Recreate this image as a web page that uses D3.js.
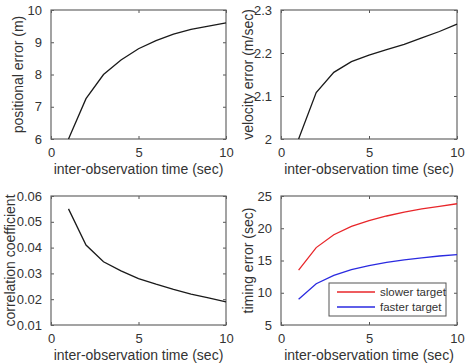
<!DOCTYPE html>
<html>
<head>
<meta charset="utf-8">
<script src="https://cdn.jsdelivr.net/npm/d3@7"></script>
<style>
  body { margin: 0; background: #fff; }
  svg { display: block; }
</style>
</head>
<body>
<div id="chart"></div>
<script>
const width = 474;
const height = 363;

const times = [1, 2, 3, 4, 5, 6, 7, 8, 9, 10];
const positionalError = [6.0, 7.25, 8.0, 8.45, 8.8, 9.05, 9.25, 9.4, 9.5, 9.6];
const velocityError = [2.0, 2.108, 2.155, 2.18, 2.195, 2.208, 2.22, 2.235, 2.25, 2.267];
const correlation = [0.055, 0.041, 0.0345, 0.031, 0.028, 0.0258, 0.0238, 0.022, 0.0205, 0.019];
const slowerTarget = [13.5, 17.0, 19.0, 20.3, 21.2, 21.9, 22.5, 23.0, 23.4, 23.8];
const fasterTarget = [9.0, 11.4, 12.7, 13.6, 14.2, 14.7, 15.1, 15.4, 15.7, 15.9];

const xTicks = [0, 5, 10];
const xTitle = 'inter-observation time (sec)';

const panels = [
  { box: [51, 10, 226, 139], yDomain: [6, 10], yTicks: [6, 7, 8, 9, 10], fmt: d => d,
    title: 'positional error (m)', titleX: 18,
    series: [{ values: positionalError, color: '#1a1a1a' }] },
  { box: [281, 10, 457, 139], yDomain: [2, 2.3], yTicks: [2, 2.1, 2.2, 2.3], fmt: d => d,
    title: 'velocity error (m/sec)', titleX: 248,
    series: [{ values: velocityError, color: '#1a1a1a' }] },
  { box: [51, 196, 226, 325], yDomain: [0.01, 0.06], yTicks: [0.01, 0.02, 0.03, 0.04, 0.05, 0.06], fmt: d3.format('.2f'),
    title: 'correlation coefficient', titleX: 10,
    series: [{ values: correlation, color: '#1a1a1a' }] },
  { box: [281, 196, 457, 325], yDomain: [5, 25], yTicks: [5, 10, 15, 20, 25], fmt: d => d,
    title: 'timing error (sec)', titleX: 248,
    series: [
      { values: slowerTarget, color: '#e8262a', name: 'slower target' },
      { values: fasterTarget, color: '#2a2ae0', name: 'faster target' }
    ],
    legend: true }
];

const svg = d3.select('#chart').append('svg')
    .attr('width', width)
    .attr('height', height)
    .attr('font-family', 'Liberation Sans, Arial, sans-serif');

panels.forEach(p => {
  const [x0, y0, x1, y1] = p.box;
  const x = d3.scaleLinear().domain([0, 10]).range([x0, x1]);
  const y = d3.scaleLinear().domain(p.yDomain).range([y1, y0]);
  const g = svg.append('g');

  // ticks inside the box on all four sides
  const axisColor = '#555';
  g.append('g')
      .attr('transform', `translate(0,${y1})`)
      .call(d3.axisBottom(x).tickValues(xTicks).tickSizeInner(-3).tickSizeOuter(0).tickPadding(9))
      .call(a => a.select('.domain').remove())
      .call(a => a.selectAll('line').attr('stroke', axisColor))
      .call(a => a.selectAll('text').attr('fill', '#333').attr('font-size', 13));
  g.append('g')
      .attr('transform', `translate(0,${y0})`)
      .call(d3.axisTop(x).tickValues(xTicks).tickSizeInner(-3).tickSizeOuter(0).tickFormat(''))
      .call(a => a.select('.domain').remove())
      .call(a => a.selectAll('line').attr('stroke', axisColor));
  g.append('g')
      .attr('transform', `translate(${x0},0)`)
      .call(d3.axisLeft(y).tickValues(p.yTicks).tickFormat(p.fmt).tickSizeInner(-3).tickSizeOuter(0).tickPadding(9))
      .call(a => a.select('.domain').remove())
      .call(a => a.selectAll('line').attr('stroke', axisColor))
      .call(a => a.selectAll('text').attr('fill', '#333').attr('font-size', 13));
  g.append('g')
      .attr('transform', `translate(${x1},0)`)
      .call(d3.axisRight(y).tickValues(p.yTicks).tickSizeInner(-3).tickSizeOuter(0).tickFormat(''))
      .call(a => a.select('.domain').remove())
      .call(a => a.selectAll('line').attr('stroke', axisColor));

  g.append('rect')
      .attr('x', x0).attr('y', y0)
      .attr('width', x1 - x0).attr('height', y1 - y0)
      .attr('fill', 'none')
      .attr('stroke', '#666')
      .attr('stroke-width', 1.2);

  const line = d3.line()
      .x((d, i) => x(times[i]))
      .y(d => y(d));

  p.series.forEach(s => {
    g.append('path')
        .datum(s.values)
        .attr('fill', 'none')
        .attr('stroke', s.color)
        .attr('stroke-width', 1.3)
        .attr('d', line);
  });

  g.append('text')
      .attr('x', (x0 + x1) / 2)
      .attr('y', y1 + 35)
      .attr('text-anchor', 'middle')
      .attr('font-size', 14)
      .attr('fill', '#333')
      .text(xTitle);

  g.append('text')
      .attr('transform', `translate(${p.titleX},${(y0 + y1) / 2}) rotate(-90)`)
      .attr('text-anchor', 'middle')
      .attr('dy', '0.35em')
      .attr('font-size', 14)
      .attr('fill', '#333')
      .text(p.title);

  if (p.legend) {
    const lg = g.append('g').attr('transform', 'translate(329,283)');
    lg.append('rect')
        .attr('width', 117).attr('height', 33)
        .attr('fill', '#fff')
        .attr('stroke', '#555');
    p.series.forEach((s, i) => {
      const ly = 9 + i * 15;
      lg.append('line')
          .attr('x1', 8).attr('x2', 46)
          .attr('y1', ly).attr('y2', ly)
          .attr('stroke', s.color)
          .attr('stroke-width', 1.3);
      lg.append('text')
          .attr('x', 51).attr('y', ly)
          .attr('dy', '0.35em')
          .attr('font-size', 11.5)
          .attr('fill', '#333')
          .text(s.name);
    });
  }
});
</script>
</body>
</html>
